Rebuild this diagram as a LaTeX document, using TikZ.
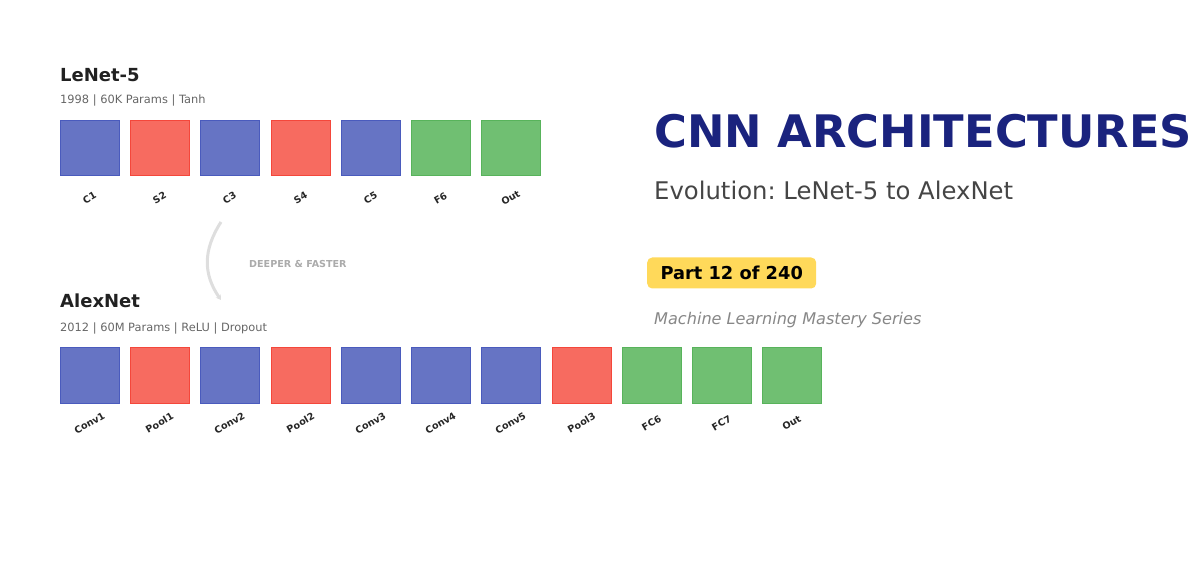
\documentclass[tikz,border=0pt]{standalone}
\usepackage{fontspec}
\setmainfont{DejaVu Sans}
\usetikzlibrary{arrows.meta}
\frenchspacing
\definecolor{cblue}{HTML}{6674C4}
\definecolor{cblueE}{HTML}{4A5BBD}
\definecolor{cred}{HTML}{F76B60}
\definecolor{credE}{HTML}{F4473B}
\definecolor{cgreen}{HTML}{70BF72}
\definecolor{cgreenE}{HTML}{58B35B}
\definecolor{navy}{HTML}{1A237E}
\definecolor{badge}{HTML}{FFD95A}
\tikzset{
  layer/.style={minimum width=58.5pt, minimum height=55.5pt, inner sep=0pt, line width=0.8pt, anchor=north west},
  conv/.style={layer, fill=cblue, draw=cblueE},
  pool/.style={layer, fill=cred, draw=credE},
  fc/.style={layer, fill=cgreen, draw=cgreenE},
  lbl/.style={rotate=30, font=\fontsize{9.6}{11}\selectfont\bfseries, text=black!85, inner sep=0pt},
  ttl/.style={anchor=base west, inner sep=0pt, font=\fontsize{18}{21}\selectfont\bfseries, text=black!87},
  sub/.style={anchor=base west, inner sep=0pt, font=\fontsize{11.4}{13}\selectfont, text=black!60},
}
\begin{document}
\begin{tikzpicture}[x=1pt,y=-1pt]
\useasboundingbox (0,0) rectangle (1200,580);
% LeNet
\node[ttl] (lt) at (60,81.5) {LeNet-5};
\node[sub] (ls) at (60,104) {1998 | 60K Params | Tanh};
\foreach \x/\s/\t [count=\i] in {60/conv/C1,130/pool/S2,200/conv/C3,271/pool/S4,341/conv/C5,411/fc/F6,481/fc/Out}{
  \node[\s] (l\i) at (\x,120) {};
  \node[lbl] (ll\i) at (\x+29.5,198) {\t};
}
% AlexNet
\node[ttl] (at) at (60,308) {AlexNet};
\node[sub] (as) at (60,331) {2012 | 60M Params | ReLU | Dropout};
\foreach \x/\s/\t [count=\i] in {60/conv/Conv1,130/pool/Pool1,200/conv/Conv2,271/pool/Pool2,341/conv/Conv3,411/conv/Conv4,481/conv/Conv5,552/pool/Pool3,622/fc/FC6,692/fc/FC7,762/fc/Out}{
  \node[\s] (a\i) at (\x,347) {};
  \node[lbl] (al\i) at (\x+29.5,423) {\t};
}
% arc
\coordinate (p1) at (221,222);
\coordinate (p2) at (221,300);
\draw[line width=3pt, draw=black!13, -{Stealth[length=5pt,width=6pt]}] (p1) .. controls (203,250) and (203,274) .. (p2);
\node[anchor=west, inner sep=0pt, font=\fontsize{9.6}{11}\selectfont\bfseries, text=black!33] (df) at (249,264) {DEEPER \& FASTER};
% right side
\node[anchor=base west, inner sep=0pt, font=\fontsize{44.8}{50}\selectfont\bfseries, text=navy] (title) at (654,148) {CNN ARCHITECTURES};
\node[anchor=base west, inner sep=0pt, font=\fontsize{24.3}{28}\selectfont, text=black!73] (evo) at (654,200) {Evolution: LeNet-5 to AlexNet};
\node[anchor=west, fill=badge, rounded corners=5pt, minimum height=31pt, minimum width=169pt, inner sep=0pt, font=\fontsize{17.8}{20}\selectfont\bfseries, text=black] (part) at (647,273) {Part 12 of 240};
\node[anchor=base west, inner sep=0pt, font=\fontsize{16.1}{19}\selectfont\itshape, text=black!47] (ser) at (654,324) {Machine Learning Mastery Series};
\end{tikzpicture}
\end{document}
